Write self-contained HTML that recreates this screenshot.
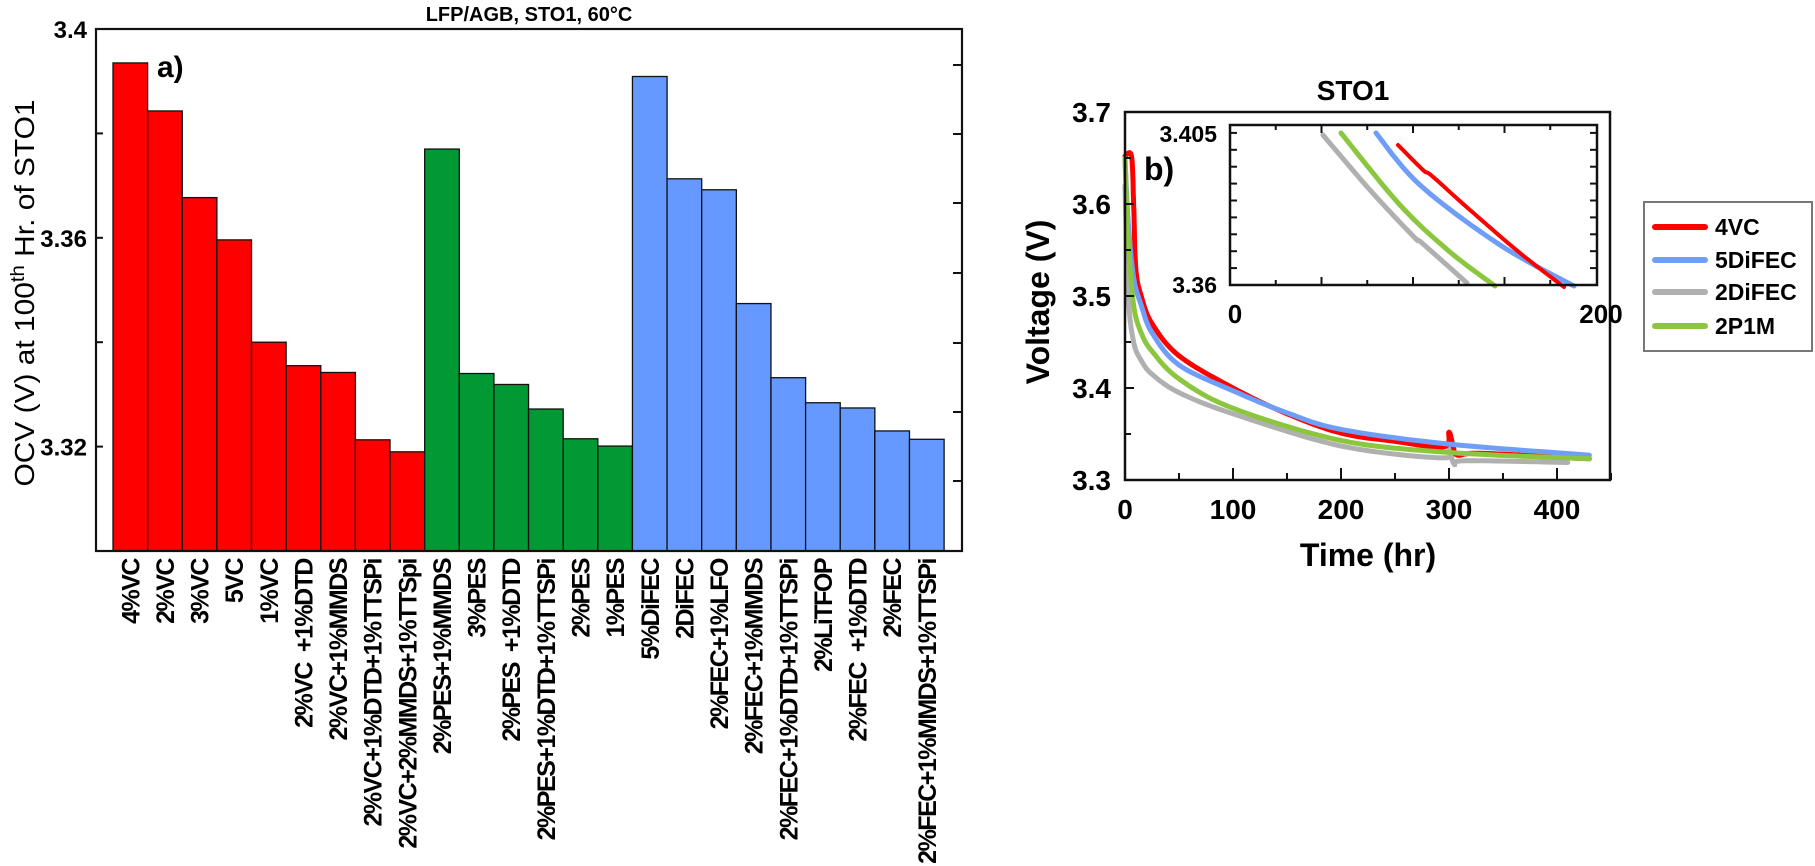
<!DOCTYPE html>
<html><head><meta charset="utf-8"><style>
html,body{margin:0;padding:0;background:#fff;}
svg{display:block;font-family:"Liberation Sans",Arial,sans-serif;}
</style></head><body>
<svg id="s" width="1815" height="866" viewBox="0 0 1815 866" xmlns="http://www.w3.org/2000/svg">
<g id="a"></g>
<g id="b"></g>
</svg>
<script>
const NS="http://www.w3.org/2000/svg";
function el(parent,tag,attrs,text){const e=document.createElementNS(NS,tag);for(const k in attrs)e.setAttribute(k,attrs[k]);if(text!==undefined)e.textContent=text;parent.appendChild(e);return e;}
const A=document.getElementById('a');
// ---- Chart a ----
const L=96,R=962,T=29,B=551;
const ya=v=>T+(3.4-v)*5220;
const names=["4%VC","2%VC","3%VC","5VC","1%VC","2%VC\u00a0\u00a0+1%DTD","2%VC+1%MMDS","2%VC+1%DTD+1%TTSPi","2%VC+2%MMDS+1%TTSpi",
"2%PES+1%MMDS","3%PES","2%PES\u00a0\u00a0+1%DTD","2%PES+1%DTD+1%TTSPi","2%PES","1%PES",
"5%DiFEC","2DiFEC","2%FEC+1%LFO","2%FEC+1%MMDS","2%FEC+1%DTD+1%TTSPi","2%LiTFOP","2%FEC\u00a0\u00a0+1%DTD","2%FEC","2%FEC+1%MMDS+1%TTSPi"];
const vals=[3.3935,3.3843,3.3677,3.3596,3.340,3.3355,3.3342,3.3213,3.3190,
3.3770,3.3340,3.3319,3.3272,3.3215,3.3201,
3.3909,3.3713,3.3692,3.3474,3.3332,3.3284,3.3274,3.3230,3.3214];
const bw=34.63,bx0=113;
for(let i=0;i<24;i++){
  const c=i<9?"#ff0000":(i<15?"#009933":"#6699ff");
  const x=bx0+i*bw,y=ya(vals[i]);
  el(A,'rect',{x:x,y:y,width:bw,height:B-y,fill:c,stroke:"#111","stroke-width":1.3});
  const cx=x+bw/2+9;
  el(A,'text',{transform:`translate(${cx},559) rotate(-90)`,"text-anchor":"end","font-size":25,"font-weight":"bold","letter-spacing":-1.5},names[i]);
}
el(A,'rect',{x:L,y:T,width:R-L,height:B-T,fill:"none",stroke:"#111","stroke-width":2.2});
[3.38,3.36,3.34,3.32].forEach(v=>el(A,'line',{x1:L,x2:L+7,y1:ya(v),y2:ya(v),stroke:"#111","stroke-width":2}));
[65,134,203,273,343,412,481].forEach(y=>el(A,'line',{x1:R-9,x2:R,y1:y,y2:y,stroke:"#111","stroke-width":2}));
[["3.4",3.4],["3.36",3.36],["3.32",3.32]].forEach(([t,v])=>el(A,'text',{x:87,y:ya(v)+9,"text-anchor":"end","font-size":24,"font-weight":"bold"},t));
el(A,'text',{x:529,y:21,"text-anchor":"middle","font-size":20,"font-weight":"bold"},"LFP/AGB, STO1, 60°C");
el(A,'text',{x:157,y:77,"font-size":30,"font-weight":"bold"},"a)");
const yl=el(A,'text',{transform:"translate(34,293) rotate(-90)","text-anchor":"middle","font-size":28,"textLength":387,"lengthAdjust":"spacingAndGlyphs"});
yl.appendChild(document.createTextNode("OCV (V) at 100"));
el(yl,'tspan',{dy:-10,"font-size":19},"th");
el(yl,'tspan',{dy:10}," Hr. of STO1");

// ---- Chart b ----
const Bg=document.getElementById('b');
const bL=1125,bR=1610,bT=112,bB=480;
const xb=t=>bL+t*1.08, yb=v=>bB-(v-3.3)*920;
function interp(pts,step){const out=[];for(let i=0;i<pts.length-1;i++){const p0=pts[Math.max(0,i-1)],p1=pts[i],p2=pts[i+1],p3=pts[Math.min(pts.length-1,i+2)];
 for(let s=0;s<step;s++){const t=s/step,t2=t*t,t3=t2*t;
  const f=(a,b,c,d)=>0.5*((2*b)+(-a+c)*t+(2*a-5*b+4*c-d)*t2+(-a+3*b-3*c+d)*t3);
  out.push([f(p0[0],p1[0],p2[0],p3[0]),f(p0[1],p1[1],p2[1],p3[1])]);}}
 out.push(pts[pts.length-1]);return out;}
function curve(g,pts,fx,fy,color,w){const p=interp(pts.map(q=>[fx(q[0]),fy(q[1])]),12);
 el(g,'polyline',{points:p.map(q=>q[0].toFixed(1)+","+q[1].toFixed(1)).join(" "),fill:"none",stroke:color,"stroke-width":w,"stroke-linejoin":"round","stroke-linecap":"round"});}
const gray=[[0,3.62],[3,3.50],[8,3.45],[15,3.43],[25,3.415],[50,3.395],[100,3.372],[200,3.337],[294,3.324],[300,3.334],[305,3.317],[315,3.321],[410,3.319]];
const green=[[0,3.65],[3,3.56],[8,3.49],[15,3.46],[25,3.44],[50,3.41],[100,3.378],[200,3.343],[300,3.330],[430,3.323]];
const red=[[0,3.652],[6,3.652],[8,3.60],[10,3.53],[15,3.50],[25,3.47],[50,3.435],[100,3.400],[150,3.372],[200,3.351],[250,3.342],[295,3.336],[300,3.352],[304,3.336],[308,3.327],[330,3.329],[430,3.323]];
const blue=[[0,3.65],[3,3.58],[8,3.52],[15,3.49],[25,3.46],[50,3.425],[100,3.397],[150,3.373],[200,3.355],[300,3.339],[430,3.327]];
curve(Bg,gray,xb,yb,"#b0b0b0",5);
curve(Bg,red,xb,yb,"#ff0000",5);
curve(Bg,blue,xb,yb,"#6f9ef8",5);
curve(Bg,green,xb,yb,"#8cc63f",5);
el(Bg,'rect',{x:bL,y:bT,width:bR-bL,height:bB-bT,fill:"none",stroke:"#111","stroke-width":2.5});
for(let k=1;k<8;k++){const v=3.3+k*0.05;const y=yb(v);el(Bg,'line',{x1:bL,x2:bL+(k%2==0?9:6),y1:y,y2:y,stroke:"#111","stroke-width":2});}
for(let t=50;t<=450;t+=50){const x=xb(t);el(Bg,'line',{x1:x,x2:x,y1:bB,y2:bB-(t%100==0?12:7),stroke:"#111","stroke-width":2});}
["3.3","3.4","3.5","3.6","3.7"].forEach(s=>el(Bg,'text',{x:1111,y:yb(+s)+10,"text-anchor":"end","font-size":28,"font-weight":"bold"},s));
[0,100,200,300,400].forEach(t=>el(Bg,'text',{x:xb(t),y:519,"text-anchor":"middle","font-size":28,"font-weight":"bold"},String(t)));
el(Bg,'text',{x:1368,y:566,"text-anchor":"middle","font-size":32,"font-weight":"bold"},"Time (hr)");
el(Bg,'text',{transform:"translate(1049,302) rotate(-90)","text-anchor":"middle","font-size":32,"font-weight":"bold"},"Voltage (V)");
el(Bg,'text',{x:1353,y:100,"text-anchor":"middle","font-size":28,"font-weight":"bold"},"STO1");
el(Bg,'text',{x:1144,y:180,"font-size":32,"font-weight":"bold"},"b)");
// inset
const iL=1230,iR=1597,iT=125,iB=285;
const xi=t=>iL+t*1.83;
const id=v=>v;
el(Bg,'rect',{x:iL,y:iT,width:iR-iL,height:iB-iT,fill:"#fff",stroke:"none"});
curve(Bg,[[1323,135],[1370,190],[1414,237],[1422,243],[1467,283]],id,id,"#b0b0b0",5);
curve(Bg,[[1341,133],[1400,205],[1450,252],[1495,286]],id,id,"#8cc63f",5);
curve(Bg,[[1376,133],[1420,185],[1500,245],[1574,286]],id,id,"#6f9ef8",5);
curve(Bg,[[1398,145],[1423,170],[1432,176],[1470,210],[1520,253],[1564,287]],id,id,"#ff0000",4);
el(Bg,'rect',{x:iL,y:iT,width:iR-iL,height:iB-iT,fill:"none",stroke:"#111","stroke-width":2.5});
for(let k=1;k<=9;k++){const y=iB-k*16.9;el(Bg,'line',{x1:iL,x2:iL+7,y1:y,y2:y,stroke:"#111","stroke-width":2});el(Bg,'line',{x1:iR-7,x2:iR,y1:y,y2:y,stroke:"#111","stroke-width":2});}
for(let t=25;t<200;t+=25){const x=xi(t),l=(t%50==0)?8:5;el(Bg,'line',{x1:x,x2:x,y1:iB,y2:iB-l,stroke:"#111","stroke-width":2});el(Bg,'line',{x1:x,x2:x,y1:iT,y2:iT+l,stroke:"#111","stroke-width":2});}
el(Bg,'text',{x:1217,y:142,"text-anchor":"end","font-size":23,"font-weight":"bold"},"3.405");
el(Bg,'text',{x:1217,y:293,"text-anchor":"end","font-size":23,"font-weight":"bold"},"3.36");
el(Bg,'text',{x:1235,y:323,"text-anchor":"middle","font-size":26,"font-weight":"bold"},"0");
el(Bg,'text',{x:1601,y:323,"text-anchor":"middle","font-size":26,"font-weight":"bold"},"200");
// legend
el(Bg,'rect',{x:1644,y:202,width:168,height:149,fill:"#fff",stroke:"#777","stroke-width":2});
[["4VC","#ff0000",227],["5DiFEC","#6f9ef8",260],["2DiFEC","#b0b0b0",292],["2P1M","#8cc63f",326]].forEach(([n,c,y])=>{
 el(Bg,'line',{x1:1655,x2:1705,y1:y,y2:y,stroke:c,"stroke-width":6,"stroke-linecap":"round"});
 el(Bg,'text',{x:1715,y:y+8,"font-size":23,"font-weight":"bold"},n);});
</script>
</body></html>
